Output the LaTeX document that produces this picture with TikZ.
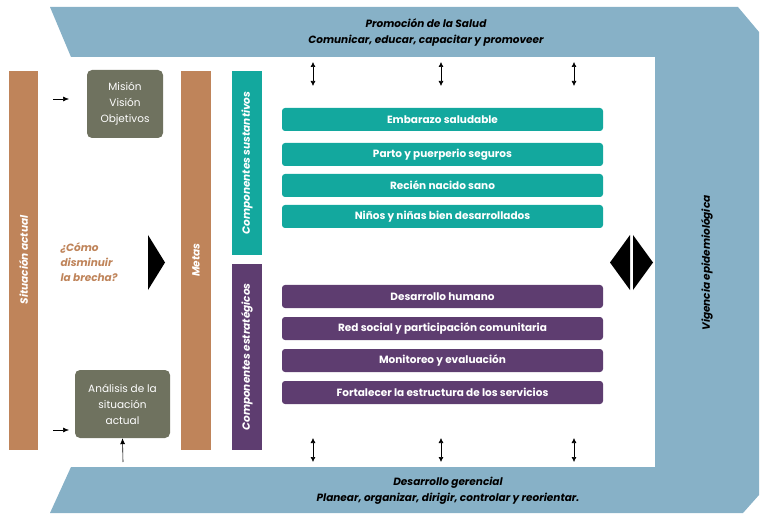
\documentclass[tikz,border=0pt]{standalone}
\usepackage{fontspec}
\setmainfont{Poppins}
\usetikzlibrary{arrows.meta}
\definecolor{cblue}{HTML}{87B1C7}
\definecolor{corange}{HTML}{BF845A}
\definecolor{cgrey}{HTML}{6F725F}
\definecolor{cteal}{HTML}{13A89E}
\definecolor{cpurple}{HTML}{5E3D70}
\definecolor{ctext}{HTML}{BF845A}
\begin{document}
\begin{tikzpicture}[x=1pt,y=-1pt,
  bar/.style={fill=corange,draw=none},
  vlabel/.style={rotate=90,text=white,font=\bfseries\itshape\fontsize{10.5}{13}\selectfont},
  gbox/.style={fill=cgrey,rounded corners=5pt,text=white,align=center,font=\fontsize{10.5}{16}\selectfont,inner sep=0pt},
  row/.style={rounded corners=3pt,text=white,font=\bfseries\fontsize{10.5}{13}\selectfont,minimum width=321pt,minimum height=23pt,inner sep=0pt},
  sarrow/.style={-{Latex[length=6pt,width=5pt]},semithick},
  darrow/.style={{Latex[length=5pt,width=5pt]}-{Latex[length=5pt,width=5pt]},semithick},
  btext/.style={font=\bfseries\itshape\fontsize{10.5}{16}\selectfont,align=center}]
\useasboundingbox (0,0) rectangle (768,521);
\fill[cblue] (50,7) -- (738,7) -- (759,32) -- (759,495) -- (743,513) -- (50,513) -- (71,467) -- (655,467) -- (655,57) -- (71,57) -- cycle;
\node[btext] (top) at (426,33) {Promoción de la Salud\\Comunicar, educar, capacitar y promoveer};
\node[btext] (bot) at (448,491) {Desarrollo gerencial\\Planear, organizar, dirigir, controlar y reorientar.};
\node[vlabel,text=black] (vig) at (707,263) {Vigencia epidemiológica};
% bars
\fill[bar] (9,71) rectangle (38,450);
\node[vlabel] (sit) at (23.5,260) {Situación actual};
\fill[bar] (181,71) rectangle (211,450);
\node[vlabel] (met) at (196,260) {Metas};
\fill[cteal] (232,71) rectangle (262,255);
\node[vlabel] (cs) at (247,163) {Componentes sustantivos};
\fill[cpurple] (232,264) rectangle (262,450);
\node[vlabel] (ce) at (247,357) {Componentes estratégicos};
% grey boxes
\node[gbox,minimum width=76pt,minimum height=68pt] (mis) at (125,104) {Misión\\Visión\\Objetivos};
\node[gbox,minimum width=95pt,minimum height=68pt] (ana) at (122.5,404) {Análisis de la\\situación\\actual};
\coordinate (a1) at (53,99); \coordinate (e1) at (69,99);
\draw[sarrow] (a1) -- (e1);
\coordinate (a2) at (53,430); \coordinate (e2) at (69,430);
\draw[sarrow] (a2) -- (e2);
\coordinate (a3) at (123,462);
\draw[sarrow] (a3) -- (ana.south);
\node[font=\bfseries\itshape\fontsize{10.5}{15}\selectfont,text=ctext,align=left] (q) at (89,262) {¿Cómo\\disminuir\\la brecha?};
\fill (148,235) -- (165,262.5) -- (148,290) -- cycle;
\fill (630,235) -- (610,262.5) -- (630,290) -- cycle;
\fill (633,235) -- (653,262.5) -- (633,290) -- cycle;
% rows
\node[row,fill=cteal] (r1) at (442.5,119.5) {Embarazo saludable};
\node[row,fill=cteal] (r2) at (442.5,154.5) {Parto y puerperio seguros};
\node[row,fill=cteal] (r3) at (442.5,185.5) {Recién nacido sano};
\node[row,fill=cteal] (r4) at (442.5,216.5) {Niños y niñas bien desarrollados};
\node[row,fill=cpurple] (p1) at (442.5,296.5) {Desarrollo humano};
\node[row,fill=cpurple] (p2) at (442.5,328.5) {Red social y participación comunitaria};
\node[row,fill=cpurple] (p3) at (442.5,360.5) {Monitoreo y evaluación};
\node[row,fill=cpurple] (p4) at (442.5,392.5) {Fortalecer la estructura de los servicios};
\foreach \x/\n in {313/a,441/b,574/c}{
  \coordinate (t\n1) at (\x,62); \coordinate (t\n2) at (\x,86);
  \draw[darrow] (t\n1) -- (t\n2);
  \coordinate (b\n1) at (\x,438); \coordinate (b\n2) at (\x,462);
  \draw[darrow] (b\n1) -- (b\n2);
}
\end{tikzpicture}
\end{document}
